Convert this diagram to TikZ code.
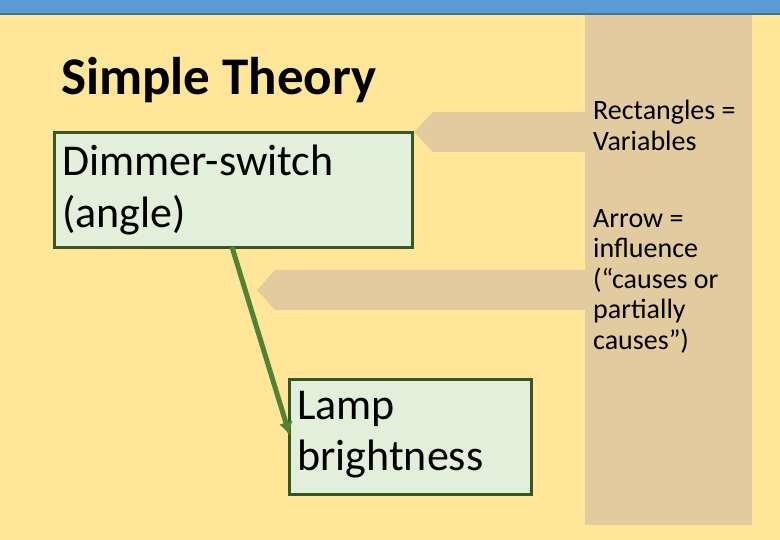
\documentclass[tikz,border=0pt]{standalone}
\usepackage{fontspec}
\usetikzlibrary{arrows.meta}
\setmainfont{Carlito}
\begin{document}
\begin{tikzpicture}[x=1pt,y=-1pt,
  var/.style={draw=boxborder,line width=3pt,fill=boxfill,anchor=north west,inner sep=0pt},
  side/.style={anchor=north west,align=left,font=\fontsize{28}{30.5}\selectfont,inner sep=0pt},
  callout/.style={fill=calloutc,draw=none}]
\definecolor{bg}{HTML}{FFE699}
\definecolor{topbar}{HTML}{5B9BD5}
\definecolor{topline}{HTML}{41719C}
\definecolor{calloutc}{HTML}{E2CB9F}
\definecolor{boxborder}{HTML}{385723}
\definecolor{boxfill}{HTML}{E2EFDA}
\definecolor{arrowc}{HTML}{548235}
\useasboundingbox (0,0) rectangle (780,540);
\fill[bg] (0,0) rectangle (780,540);
\fill[topbar] (0,0) rectangle (780,14);
\draw[topline,line width=1.5pt] (0,14) -- (780,14);
\fill[callout] (585,15) rectangle (752,525);
\fill[callout] (585,112) -- (433,112) -- (414,132) -- (433,152) -- (585,152) -- cycle;
\fill[callout] (585,270) -- (275,270) -- (257,290) -- (275,310) -- (585,310) -- cycle;
\node[anchor=west,font=\bfseries\fontsize{53}{60}\selectfont,inner sep=0pt] (title) at (61,80) {Simple Theory};
\node[var,minimum width=358pt,minimum height=115pt] (dim) at (53,131) {};
\node[anchor=north west,align=left,font=\fontsize{44}{52}\selectfont,inner sep=0pt] (dimt) at (62,145) {Dimmer-switch\\(angle)};
\node[var,minimum width=242pt,minimum height=115pt] (lamp) at (288,378) {};
\node[anchor=north west,align=left,font=\fontsize{44}{51}\selectfont,inner sep=0pt] (lampt) at (297,391) {Lamp\\brightness};
\coordinate (a1) at (232,247);
\coordinate (a2) at (290,436);
\draw[arrowc,line width=5pt,-{Latex[length=14pt,width=14pt]}] (a1) -- (a2);
\node[side] (s1) at (593,100) {Rectangles =\\Variables};
\node[side] (s2) at (593,209) {Arrow =\\influence\\(“causes or\\partially\\causes”)};
\end{tikzpicture}
\end{document}
